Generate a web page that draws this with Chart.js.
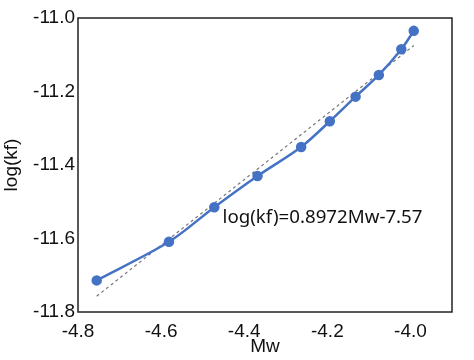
<!DOCTYPE html>
<html lang="en">
<head>
  <meta charset="UTF-8">
  <title>log(kf) vs Mw</title>
  <script src="https://cdn.jsdelivr.net/npm/chart.js"></script>
  <style>
    html, body { margin: 0; padding: 0; background: #fff; }
    .wrap { width: 474px; height: 360px; }
  </style>
</head>
<body>
  <div class="wrap"><canvas id="chart" width="474" height="360"></canvas></div>
  <script>
    // data
    const mwValues = [-4.755, -4.581, -4.472, -4.368, -4.263, -4.194, -4.132, -4.076, -4.022, -3.992];
    const logKf = [-11.714, -11.609, -11.515, -11.430, -11.351, -11.281, -11.214, -11.155, -11.085, -11.035];
    const fitX = [-4.755, -3.992];
    const fitY = [-11.757, -11.075];
    const xTicks = [-4.8, -4.6, -4.4, -4.2, -4.0];
    const yTicks = [-11.8, -11.6, -11.4, -11.2, -11.0];
    const equation = 'log(kf)=0.8972Mw-7.57';

    const blue = '#4472C4';
    const tickFont = { family: '"Liberation Sans", Arial, sans-serif', size: 19 };

    // plot frame + equation text
    const framePlugin = {
      id: 'frame',
      afterDraw(chart) {
        const { ctx, chartArea: a, scales } = chart;
        ctx.save();
        ctx.strokeStyle = '#222';
        ctx.lineWidth = 1.5;
        ctx.strokeRect(a.left, a.top, a.right - a.left, a.bottom - a.top);
        ctx.fillStyle = '#111';
        ctx.font = '18.7px "Noto Sans", sans-serif';
        ctx.textBaseline = 'middle';
        ctx.textAlign = 'left';
        ctx.fillText(equation, scales.x.getPixelForValue(-4.452), scales.y.getPixelForValue(-11.543));
        ctx.restore();
      }
    };

    new Chart(document.getElementById('chart'), {
      type: 'scatter',
      data: {
        datasets: [
          {
            label: 'fit',
            data: fitX.map((x, i) => ({ x, y: fitY[i] })),
            showLine: true,
            borderColor: '#777',
            borderWidth: 1.2,
            borderDash: [3, 3],
            pointRadius: 0,
            order: 2
          },
          {
            label: 'log(kf)',
            data: mwValues.map((x, i) => ({ x, y: logKf[i] })),
            showLine: true,
            borderColor: blue,
            backgroundColor: blue,
            borderWidth: 2.5,
            pointRadius: 4,
            tension: 0.3,
            order: 1
          }
        ]
      },
      options: {
        responsive: false,
        animation: false,
        layout: { padding: { top: 18, right: 22, left: 0, bottom: 0 } },
        plugins: { legend: { display: false }, tooltip: { enabled: false } },
        scales: {
          x: {
            type: 'linear',
            min: -4.8,
            max: -3.9,
            grid: { display: false, drawTicks: false },
            border: { display: false },
            afterBuildTicks: s => { s.ticks = xTicks.map(v => ({ value: v })); },
            afterFit: s => { s.height = 48; },
            ticks: {
              padding: 8,
              color: '#111',
              font: tickFont,
              maxRotation: 0,
              callback: v => v.toFixed(1)
            },
            title: {
              display: true,
              text: 'Mw',
              color: '#111',
              font: tickFont,
              padding: { top: 0, bottom: 2 }
            }
          },
          y: {
            type: 'linear',
            min: -11.8,
            max: -11.0,
            grid: { display: false, drawTicks: false },
            border: { display: false },
            afterBuildTicks: s => { s.ticks = yTicks.map(v => ({ value: v })); },
            afterFit: s => { s.width = 78; },
            ticks: {
              padding: 3,
              color: '#111',
              font: tickFont,
              callback: v => v.toFixed(1)
            },
            title: {
              display: true,
              text: 'log(kf)',
              color: '#111',
              font: tickFont,
              padding: { top: 0, bottom: 0 }
            }
          }
        }
      },
      plugins: [framePlugin]
    });
  </script>
</body>
</html>
